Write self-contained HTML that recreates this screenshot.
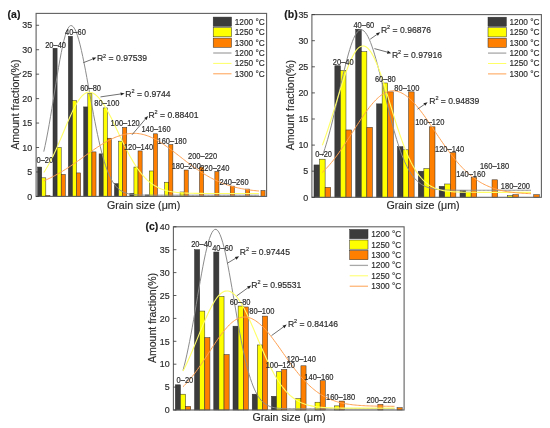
<!DOCTYPE html>
<html><head><meta charset="utf-8"><style>
html,body{margin:0;padding:0;background:#fff;width:550px;height:428px;overflow:hidden}
svg{display:block;font-family:"Liberation Sans", sans-serif;filter:blur(0.35px)}
</style></head><body>
<svg width="550" height="428" viewBox="0 0 550 428">
<rect width="550" height="428" fill="#fff"/>
<rect x="37.64" y="167.07" width="4.10" height="29.33" fill="#3c3c3c" stroke="#2a2a2a" stroke-width="0.5"/>
<rect x="53.00" y="48.26" width="4.10" height="148.14" fill="#3c3c3c" stroke="#2a2a2a" stroke-width="0.5"/>
<rect x="68.37" y="36.29" width="4.10" height="160.11" fill="#3c3c3c" stroke="#2a2a2a" stroke-width="0.5"/>
<rect x="83.74" y="106.93" width="4.10" height="89.47" fill="#3c3c3c" stroke="#2a2a2a" stroke-width="0.5"/>
<rect x="99.10" y="153.87" width="4.10" height="42.53" fill="#3c3c3c" stroke="#2a2a2a" stroke-width="0.5"/>
<rect x="114.47" y="183.69" width="4.10" height="12.71" fill="#3c3c3c" stroke="#2a2a2a" stroke-width="0.5"/>
<rect x="129.84" y="193.47" width="4.10" height="2.93" fill="#3c3c3c" stroke="#2a2a2a" stroke-width="0.5"/>
<rect x="145.20" y="194.93" width="4.10" height="1.47" fill="#3c3c3c" stroke="#2a2a2a" stroke-width="0.5"/>
<rect x="41.73" y="177.82" width="4.10" height="18.58" fill="#ffff00" stroke="#2a2a2a" stroke-width="0.5"/>
<rect x="57.10" y="147.51" width="4.10" height="48.89" fill="#ffff00" stroke="#2a2a2a" stroke-width="0.5"/>
<rect x="72.47" y="100.58" width="4.10" height="95.82" fill="#ffff00" stroke="#2a2a2a" stroke-width="0.5"/>
<rect x="87.83" y="93.49" width="4.10" height="102.91" fill="#ffff00" stroke="#2a2a2a" stroke-width="0.5"/>
<rect x="103.20" y="107.91" width="4.10" height="88.49" fill="#ffff00" stroke="#2a2a2a" stroke-width="0.5"/>
<rect x="118.57" y="141.15" width="4.10" height="55.25" fill="#ffff00" stroke="#2a2a2a" stroke-width="0.5"/>
<rect x="133.93" y="167.07" width="4.10" height="29.33" fill="#ffff00" stroke="#2a2a2a" stroke-width="0.5"/>
<rect x="149.30" y="170.98" width="4.10" height="25.42" fill="#ffff00" stroke="#2a2a2a" stroke-width="0.5"/>
<rect x="164.67" y="182.22" width="4.10" height="14.18" fill="#ffff00" stroke="#2a2a2a" stroke-width="0.5"/>
<rect x="180.03" y="192.00" width="4.10" height="4.40" fill="#ffff00" stroke="#2a2a2a" stroke-width="0.5"/>
<rect x="45.83" y="195.42" width="4.10" height="0.98" fill="#ff8000" stroke="#2a2a2a" stroke-width="0.5"/>
<rect x="61.20" y="174.40" width="4.10" height="22.00" fill="#ff8000" stroke="#2a2a2a" stroke-width="0.5"/>
<rect x="76.57" y="172.93" width="4.10" height="23.47" fill="#ff8000" stroke="#2a2a2a" stroke-width="0.5"/>
<rect x="91.93" y="151.91" width="4.10" height="44.49" fill="#ff8000" stroke="#2a2a2a" stroke-width="0.5"/>
<rect x="107.30" y="138.22" width="4.10" height="58.18" fill="#ff8000" stroke="#2a2a2a" stroke-width="0.5"/>
<rect x="122.67" y="127.47" width="4.10" height="68.93" fill="#ff8000" stroke="#2a2a2a" stroke-width="0.5"/>
<rect x="138.03" y="150.93" width="4.10" height="45.47" fill="#ff8000" stroke="#2a2a2a" stroke-width="0.5"/>
<rect x="153.40" y="133.82" width="4.10" height="62.58" fill="#ff8000" stroke="#2a2a2a" stroke-width="0.5"/>
<rect x="168.77" y="144.58" width="4.10" height="51.82" fill="#ff8000" stroke="#2a2a2a" stroke-width="0.5"/>
<rect x="184.13" y="170.00" width="4.10" height="26.40" fill="#ff8000" stroke="#2a2a2a" stroke-width="0.5"/>
<rect x="199.50" y="167.07" width="4.10" height="29.33" fill="#ff8000" stroke="#2a2a2a" stroke-width="0.5"/>
<rect x="214.87" y="171.47" width="4.10" height="24.93" fill="#ff8000" stroke="#2a2a2a" stroke-width="0.5"/>
<rect x="230.23" y="186.13" width="4.10" height="10.27" fill="#ff8000" stroke="#2a2a2a" stroke-width="0.5"/>
<rect x="245.60" y="189.07" width="4.10" height="7.33" fill="#ff8000" stroke="#2a2a2a" stroke-width="0.5"/>
<rect x="260.97" y="190.53" width="4.10" height="5.87" fill="#ff8000" stroke="#2a2a2a" stroke-width="0.5"/>
<polyline points="43.78,151.65 45.13,145.56 46.47,138.98 47.82,131.95 49.16,124.52 50.51,116.73 51.85,108.67 53.20,100.40 54.54,92.03 55.88,83.67 57.23,75.42 58.57,67.42 59.92,59.78 61.26,52.64 62.61,46.11 63.95,40.32 65.30,35.37 66.64,31.35 67.99,28.34 69.33,26.40 70.68,25.56 72.02,25.79 73.36,26.91 74.71,28.90 76.05,31.74 77.40,35.38 78.74,39.75 80.09,44.81 81.43,50.47 82.78,56.64 84.12,63.25 85.47,70.21 86.81,77.43 88.15,84.81 89.50,92.28 90.84,99.74 92.19,107.13 93.53,114.38 94.88,121.42 96.22,128.20 97.57,134.68 98.91,140.82 100.26,146.59 101.60,151.98 102.95,156.98 104.29,161.57 105.63,165.77 106.98,169.58 108.32,173.01 109.67,176.08 111.01,178.82 112.36,181.24 113.70,183.36 115.05,185.21 116.39,186.82 117.74,188.20 119.08,189.39 120.42,190.40 121.77,191.25 123.11,191.97 124.46,192.57 125.80,193.07 127.15,193.48 128.49,193.82 129.84,194.10 131.18,194.32 132.53,194.51 133.87,194.65 135.22,194.77 136.56,194.86 137.90,194.93 139.25,194.99 140.59,195.03 141.94,195.07 143.28,195.10 144.63,195.12 145.97,195.13 147.32,195.14 148.66,195.15 150.01,195.16 151.35,195.16 152.69,195.17 154.04,195.17 155.38,195.17 156.73,195.17 158.07,195.18 159.42,195.18 160.76,195.18 162.11,195.18 163.45,195.18 164.80,195.18 166.14,195.18 167.49,195.18 168.83,195.18 170.17,195.18 171.52,195.18 172.86,195.18 174.21,195.18 175.55,195.18 176.90,195.18 178.24,195.18 179.59,195.18 180.93,195.18 182.28,195.18 183.62,195.18 184.96,195.18 186.31,195.18 187.65,195.18 189.00,195.18 190.34,195.18 191.69,195.18 193.03,195.18 194.38,195.18 195.72,195.18 197.07,195.18 198.41,195.18 199.76,195.18 201.10,195.18 202.44,195.18 203.79,195.18 205.13,195.18 206.48,195.18 207.82,195.18 209.17,195.18 210.51,195.18 211.86,195.18 213.20,195.18 214.55,195.18 215.89,195.18 217.23,195.18 218.58,195.18 219.92,195.18 221.27,195.18 222.61,195.18 223.96,195.18 225.30,195.18 226.65,195.18 227.99,195.18 229.34,195.18 230.68,195.18 232.03,195.18 233.37,195.18 234.71,195.18 236.06,195.18 237.40,195.18 238.75,195.18 240.09,195.18 241.44,195.18 242.78,195.18 244.13,195.18 245.47,195.18 246.82,195.18 248.16,195.18 249.50,195.18 250.85,195.18 252.19,195.18 253.54,195.18 254.88,195.18 256.23,195.18 257.57,195.18 258.92,195.18" fill="none" stroke="#8c8c8c" stroke-width="1.0"/>
<polyline points="43.78,172.46 45.13,170.43 46.47,168.28 47.82,166.00 49.16,163.60 50.51,161.08 51.85,158.45 53.20,155.70 54.54,152.86 55.88,149.92 57.23,146.90 58.57,143.80 59.92,140.65 61.26,137.46 62.61,134.23 63.95,131.00 65.30,127.77 66.64,124.56 67.99,121.40 69.33,118.31 70.68,115.29 72.02,112.39 73.36,109.61 74.71,106.97 76.05,104.50 77.40,102.22 78.74,100.13 80.09,98.26 81.43,96.62 82.78,95.23 84.12,94.10 85.47,93.23 86.81,92.64 88.15,92.32 89.50,92.28 90.84,92.47 92.19,92.87 93.53,93.49 94.88,94.32 96.22,95.35 97.57,96.58 98.91,98.01 100.26,99.61 101.60,101.38 102.95,103.31 104.29,105.40 105.63,107.62 106.98,109.96 108.32,112.41 109.67,114.96 111.01,117.60 112.36,120.30 113.70,123.06 115.05,125.85 116.39,128.68 117.74,131.52 119.08,134.37 120.42,137.20 121.77,140.02 123.11,142.80 124.46,145.54 125.80,148.23 127.15,150.86 128.49,153.43 129.84,155.92 131.18,158.33 132.53,160.65 133.87,162.89 135.22,165.04 136.56,167.09 137.90,169.05 139.25,170.91 140.59,172.67 141.94,174.34 143.28,175.91 144.63,177.39 145.97,178.77 147.32,180.07 148.66,181.27 150.01,182.39 151.35,183.43 152.69,184.40 154.04,185.28 155.38,186.10 156.73,186.85 158.07,187.53 159.42,188.16 160.76,188.73 162.11,189.25 163.45,189.72 164.80,190.14 166.14,190.52 167.49,190.87 168.83,191.18 170.17,191.45 171.52,191.70 172.86,191.92 174.21,192.12 175.55,192.29 176.90,192.44 178.24,192.58 179.59,192.70 180.93,192.80 182.28,192.89 183.62,192.97 184.96,193.04 186.31,193.10 187.65,193.16 189.00,193.20 190.34,193.24 191.69,193.27 193.03,193.30 194.38,193.33 195.72,193.35 197.07,193.37 198.41,193.38 199.76,193.40 201.10,193.41 202.44,193.42 203.79,193.43 205.13,193.43 206.48,193.44 207.82,193.44 209.17,193.45 210.51,193.45 211.86,193.45 213.20,193.46 214.55,193.46 215.89,193.46 217.23,193.46 218.58,193.46 219.92,193.46 221.27,193.46 222.61,193.46 223.96,193.46 225.30,193.46 226.65,193.47 227.99,193.47 229.34,193.47 230.68,193.47 232.03,193.47 233.37,193.47 234.71,193.47 236.06,193.47 237.40,193.47 238.75,193.47 240.09,193.47 241.44,193.47 242.78,193.47 244.13,193.47 245.47,193.47 246.82,193.47 248.16,193.47 249.50,193.47 250.85,193.47 252.19,193.47 253.54,193.47 254.88,193.47 256.23,193.47 257.57,193.47 258.92,193.47" fill="none" stroke="#ffff66" stroke-width="1.1"/>
<polyline points="43.78,180.87 45.13,180.30 46.47,179.71 47.82,179.10 49.16,178.47 50.51,177.82 51.85,177.15 53.20,176.46 54.54,175.76 55.88,175.03 57.23,174.29 58.57,173.53 59.92,172.75 61.26,171.96 62.61,171.14 63.95,170.32 65.30,169.47 66.64,168.62 67.99,167.74 69.33,166.86 70.68,165.96 72.02,165.05 73.36,164.13 74.71,163.20 76.05,162.26 77.40,161.32 78.74,160.37 80.09,159.41 81.43,158.45 82.78,157.49 84.12,156.52 85.47,155.56 86.81,154.59 88.15,153.63 89.50,152.68 90.84,151.73 92.19,150.79 93.53,149.85 94.88,148.93 96.22,148.02 97.57,147.12 98.91,146.24 100.26,145.38 101.60,144.53 102.95,143.71 104.29,142.91 105.63,142.13 106.98,141.37 108.32,140.64 109.67,139.94 111.01,139.26 112.36,138.62 113.70,138.01 115.05,137.43 116.39,136.89 117.74,136.38 119.08,135.91 120.42,135.47 121.77,135.08 123.11,134.72 124.46,134.40 125.80,134.12 127.15,133.88 128.49,133.69 129.84,133.54 131.18,133.43 132.53,133.36 133.87,133.33 135.22,133.35 136.56,133.42 137.90,133.54 139.25,133.72 140.59,133.94 141.94,134.21 143.28,134.52 144.63,134.89 145.97,135.30 147.32,135.76 148.66,136.26 150.01,136.81 151.35,137.39 152.69,138.02 154.04,138.69 155.38,139.39 156.73,140.13 158.07,140.90 159.42,141.71 160.76,142.54 162.11,143.41 163.45,144.29 164.80,145.21 166.14,146.14 167.49,147.10 168.83,148.08 170.17,149.07 171.52,150.07 172.86,151.09 174.21,152.12 175.55,153.15 176.90,154.19 178.24,155.24 179.59,156.29 180.93,157.33 182.28,158.38 183.62,159.43 184.96,160.47 186.31,161.50 187.65,162.53 189.00,163.54 190.34,164.55 191.69,165.54 193.03,166.52 194.38,167.49 195.72,168.44 197.07,169.38 198.41,170.29 199.76,171.19 201.10,172.07 202.44,172.93 203.79,173.77 205.13,174.59 206.48,175.39 207.82,176.17 209.17,176.92 210.51,177.65 211.86,178.36 213.20,179.05 214.55,179.72 215.89,180.36 217.23,180.98 218.58,181.58 219.92,182.15 221.27,182.71 222.61,183.24 223.96,183.75 225.30,184.24 226.65,184.71 227.99,185.15 229.34,185.58 230.68,185.99 232.03,186.38 233.37,186.75 234.71,187.11 236.06,187.44 237.40,187.76 238.75,188.06 240.09,188.35 241.44,188.62 242.78,188.88 244.13,189.12 245.47,189.35 246.82,189.57 248.16,189.77 249.50,189.96 250.85,190.14 252.19,190.31 253.54,190.47 254.88,190.62 256.23,190.76 257.57,190.89 258.92,191.01" fill="none" stroke="#ffa050" stroke-width="1.0"/>
<rect x="36.10" y="13.40" width="230.50" height="183.00" fill="none" stroke="#606060" stroke-width="1.1"/>
<line x1="36.10" y1="196.40" x2="39.10" y2="196.40" stroke="#333" stroke-width="0.8"/>
<text x="0" y="0" transform="translate(32.20,199.60) scale(1,1.1)" font-size="8.9" text-anchor="end" font-weight="normal" fill="#2b2b2b" stroke="#2b2b2b" stroke-width="0.16" >0</text>
<line x1="36.10" y1="171.96" x2="39.10" y2="171.96" stroke="#333" stroke-width="0.8"/>
<text x="0" y="0" transform="translate(32.20,175.16) scale(1,1.1)" font-size="8.9" text-anchor="end" font-weight="normal" fill="#2b2b2b" stroke="#2b2b2b" stroke-width="0.16" >5</text>
<line x1="36.10" y1="147.51" x2="39.10" y2="147.51" stroke="#333" stroke-width="0.8"/>
<text x="0" y="0" transform="translate(32.20,150.71) scale(1,1.1)" font-size="8.9" text-anchor="end" font-weight="normal" fill="#2b2b2b" stroke="#2b2b2b" stroke-width="0.16" >10</text>
<line x1="36.10" y1="123.06" x2="39.10" y2="123.06" stroke="#333" stroke-width="0.8"/>
<text x="0" y="0" transform="translate(32.20,126.27) scale(1,1.1)" font-size="8.9" text-anchor="end" font-weight="normal" fill="#2b2b2b" stroke="#2b2b2b" stroke-width="0.16" >15</text>
<line x1="36.10" y1="98.62" x2="39.10" y2="98.62" stroke="#333" stroke-width="0.8"/>
<text x="0" y="0" transform="translate(32.20,101.82) scale(1,1.1)" font-size="8.9" text-anchor="end" font-weight="normal" fill="#2b2b2b" stroke="#2b2b2b" stroke-width="0.16" >20</text>
<line x1="36.10" y1="74.17" x2="39.10" y2="74.17" stroke="#333" stroke-width="0.8"/>
<text x="0" y="0" transform="translate(32.20,77.38) scale(1,1.1)" font-size="8.9" text-anchor="end" font-weight="normal" fill="#2b2b2b" stroke="#2b2b2b" stroke-width="0.16" >25</text>
<line x1="36.10" y1="49.73" x2="39.10" y2="49.73" stroke="#333" stroke-width="0.8"/>
<text x="0" y="0" transform="translate(32.20,52.93) scale(1,1.1)" font-size="8.9" text-anchor="end" font-weight="normal" fill="#2b2b2b" stroke="#2b2b2b" stroke-width="0.16" >30</text>
<line x1="36.10" y1="25.28" x2="39.10" y2="25.28" stroke="#333" stroke-width="0.8"/>
<text x="0" y="0" transform="translate(32.20,28.49) scale(1,1.1)" font-size="8.9" text-anchor="end" font-weight="normal" fill="#2b2b2b" stroke="#2b2b2b" stroke-width="0.16" >35</text>
<text x="0" y="0" font-size="10.55" text-anchor="middle" fill="#2b2b2b" stroke="#2b2b2b" stroke-width="0.16" transform="translate(18.90,104.60) rotate(-90) scale(1,1.1)">Amount fraction(%)</text>
<text x="0" y="0" transform="translate(107.00,208.85) scale(1,1.1)" font-size="10.7" text-anchor="start" font-weight="normal" fill="#2b2b2b" stroke="#2b2b2b" stroke-width="0.16" >Grain size (&#956;m)</text>
<text x="0" y="0" transform="translate(7.60,17.68) scale(1,1.1)" font-size="10.5" text-anchor="start" font-weight="bold" fill="#1a1a1a" stroke="#1a1a1a" stroke-width="0.16" >(a)</text>
<rect x="213.20" y="17.10" width="18.3" height="9.2" fill="#3c3c3c" stroke="#2a2a2a" stroke-width="0.5"/>
<text x="0" y="0" transform="translate(234.70,24.89) scale(1,1.1)" font-size="8.3" text-anchor="start" font-weight="normal" fill="#2b2b2b" stroke="#2b2b2b" stroke-width="0.16" >1200 &#176;C</text>
<rect x="213.20" y="27.60" width="18.3" height="9.2" fill="#ffff00" stroke="#2a2a2a" stroke-width="0.5"/>
<text x="0" y="0" transform="translate(234.70,35.39) scale(1,1.1)" font-size="8.3" text-anchor="start" font-weight="normal" fill="#2b2b2b" stroke="#2b2b2b" stroke-width="0.16" >1250 &#176;C</text>
<rect x="213.20" y="38.10" width="18.3" height="9.2" fill="#ff8000" stroke="#2a2a2a" stroke-width="0.5"/>
<text x="0" y="0" transform="translate(234.70,45.89) scale(1,1.1)" font-size="8.3" text-anchor="start" font-weight="normal" fill="#2b2b2b" stroke="#2b2b2b" stroke-width="0.16" >1300 &#176;C</text>
<line x1="213.20" y1="53.00" x2="231.50" y2="53.00" stroke="#a8a8a8" stroke-width="1.3"/>
<text x="0" y="0" transform="translate(234.70,55.99) scale(1,1.1)" font-size="8.3" text-anchor="start" font-weight="normal" fill="#2b2b2b" stroke="#2b2b2b" stroke-width="0.16" >1200 &#176;C</text>
<line x1="213.20" y1="63.40" x2="231.50" y2="63.40" stroke="#ffff66" stroke-width="1.0"/>
<text x="0" y="0" transform="translate(234.70,66.39) scale(1,1.1)" font-size="8.3" text-anchor="start" font-weight="normal" fill="#2b2b2b" stroke="#2b2b2b" stroke-width="0.16" >1250 &#176;C</text>
<line x1="213.20" y1="73.80" x2="231.50" y2="73.80" stroke="#ffa050" stroke-width="1.0"/>
<text x="0" y="0" transform="translate(234.70,76.79) scale(1,1.1)" font-size="8.3" text-anchor="start" font-weight="normal" fill="#2b2b2b" stroke="#2b2b2b" stroke-width="0.16" >1300 &#176;C</text>
<text x="0" y="0" transform="translate(36.50,163.20) scale(1,1.1)" font-size="7.5" text-anchor="start" font-weight="normal" fill="#2b2b2b" stroke="#2b2b2b" stroke-width="0.16" >0&#8211;20</text>
<text x="0" y="0" transform="translate(45.20,47.70) scale(1,1.1)" font-size="7.5" text-anchor="start" font-weight="normal" fill="#2b2b2b" stroke="#2b2b2b" stroke-width="0.16" >20&#8211;40</text>
<text x="0" y="0" transform="translate(65.00,34.90) scale(1,1.1)" font-size="7.5" text-anchor="start" font-weight="normal" fill="#2b2b2b" stroke="#2b2b2b" stroke-width="0.16" >40&#8211;60</text>
<text x="0" y="0" transform="translate(80.20,91.40) scale(1,1.1)" font-size="7.5" text-anchor="start" font-weight="normal" fill="#2b2b2b" stroke="#2b2b2b" stroke-width="0.16" >60&#8211;80</text>
<text x="0" y="0" transform="translate(94.30,106.30) scale(1,1.1)" font-size="7.5" text-anchor="start" font-weight="normal" fill="#2b2b2b" stroke="#2b2b2b" stroke-width="0.16" >80&#8211;100</text>
<text x="0" y="0" transform="translate(110.60,125.70) scale(1,1.1)" font-size="7.5" text-anchor="start" font-weight="normal" fill="#2b2b2b" stroke="#2b2b2b" stroke-width="0.16" >100&#8211;120</text>
<text x="0" y="0" transform="translate(123.90,149.70) scale(1,1.1)" font-size="7.5" text-anchor="start" font-weight="normal" fill="#2b2b2b" stroke="#2b2b2b" stroke-width="0.16" >120&#8211;140</text>
<text x="0" y="0" transform="translate(141.40,131.70) scale(1,1.1)" font-size="7.5" text-anchor="start" font-weight="normal" fill="#2b2b2b" stroke="#2b2b2b" stroke-width="0.16" >140&#8211;160</text>
<text x="0" y="0" transform="translate(157.50,143.70) scale(1,1.1)" font-size="7.5" text-anchor="start" font-weight="normal" fill="#2b2b2b" stroke="#2b2b2b" stroke-width="0.16" >160&#8211;180</text>
<text x="0" y="0" transform="translate(171.70,168.70) scale(1,1.1)" font-size="7.5" text-anchor="start" font-weight="normal" fill="#2b2b2b" stroke="#2b2b2b" stroke-width="0.16" >180&#8211;200</text>
<text x="0" y="0" transform="translate(188.00,159.40) scale(1,1.1)" font-size="7.5" text-anchor="start" font-weight="normal" fill="#2b2b2b" stroke="#2b2b2b" stroke-width="0.16" >200&#8211;220</text>
<text x="0" y="0" transform="translate(200.20,170.60) scale(1,1.1)" font-size="7.5" text-anchor="start" font-weight="normal" fill="#2b2b2b" stroke="#2b2b2b" stroke-width="0.16" >220&#8211;240</text>
<text x="0" y="0" transform="translate(219.40,185.10) scale(1,1.1)" font-size="7.5" text-anchor="start" font-weight="normal" fill="#2b2b2b" stroke="#2b2b2b" stroke-width="0.16" >240&#8211;260</text>
<text x="0" y="0" transform="translate(96.90,61.20) scale(1,1.1)" font-size="8.6" fill="#2b2b2b" stroke="#2b2b2b" stroke-width="0.16">R<tspan font-size="5.5" dy="-3.3">2</tspan><tspan dy="3.3"> = 0.97539</tspan></text>
<line x1="83.30" y1="62.70" x2="92.67" y2="59.05" stroke="#333" stroke-width="0.7"/>
<polygon points="96.40,57.60 93.25,60.54 92.09,57.56" fill="#222"/>
<text x="0" y="0" transform="translate(125.30,96.50) scale(1,1.1)" font-size="8.6" fill="#2b2b2b" stroke="#2b2b2b" stroke-width="0.16">R<tspan font-size="5.5" dy="-3.3">2</tspan><tspan dy="3.3"> = 0.9744</tspan></text>
<line x1="100.50" y1="96.90" x2="120.64" y2="93.97" stroke="#333" stroke-width="0.7"/>
<polygon points="124.60,93.40 120.87,95.56 120.41,92.39" fill="#222"/>
<text x="0" y="0" transform="translate(148.40,118.00) scale(1,1.1)" font-size="8.6" fill="#2b2b2b" stroke="#2b2b2b" stroke-width="0.16">R<tspan font-size="5.5" dy="-3.3">2</tspan><tspan dy="3.3"> = 0.88401</tspan></text>
<line x1="132.00" y1="134.80" x2="145.41" y2="119.05" stroke="#333" stroke-width="0.7"/>
<polygon points="148.00,116.00 146.63,120.08 144.19,118.01" fill="#222"/>
<rect x="313.99" y="164.94" width="5.56" height="32.36" fill="#3c3c3c" stroke="#2a2a2a" stroke-width="0.5"/>
<rect x="334.85" y="65.76" width="5.56" height="131.54" fill="#3c3c3c" stroke="#2a2a2a" stroke-width="0.5"/>
<rect x="355.71" y="29.22" width="5.56" height="168.08" fill="#3c3c3c" stroke="#2a2a2a" stroke-width="0.5"/>
<rect x="376.58" y="103.86" width="5.56" height="93.44" fill="#3c3c3c" stroke="#2a2a2a" stroke-width="0.5"/>
<rect x="397.44" y="146.67" width="5.56" height="50.63" fill="#3c3c3c" stroke="#2a2a2a" stroke-width="0.5"/>
<rect x="418.30" y="171.20" width="5.56" height="26.10" fill="#3c3c3c" stroke="#2a2a2a" stroke-width="0.5"/>
<rect x="439.17" y="186.34" width="5.56" height="10.96" fill="#3c3c3c" stroke="#2a2a2a" stroke-width="0.5"/>
<rect x="460.03" y="190.51" width="5.56" height="6.79" fill="#3c3c3c" stroke="#2a2a2a" stroke-width="0.5"/>
<rect x="319.55" y="159.19" width="5.56" height="38.11" fill="#ffff00" stroke="#2a2a2a" stroke-width="0.5"/>
<rect x="340.41" y="70.45" width="5.56" height="126.85" fill="#ffff00" stroke="#2a2a2a" stroke-width="0.5"/>
<rect x="361.28" y="51.66" width="5.56" height="145.64" fill="#ffff00" stroke="#2a2a2a" stroke-width="0.5"/>
<rect x="382.14" y="82.98" width="5.56" height="114.32" fill="#ffff00" stroke="#2a2a2a" stroke-width="0.5"/>
<rect x="403.00" y="149.80" width="5.56" height="47.50" fill="#ffff00" stroke="#2a2a2a" stroke-width="0.5"/>
<rect x="423.87" y="168.59" width="5.56" height="28.71" fill="#ffff00" stroke="#2a2a2a" stroke-width="0.5"/>
<rect x="444.73" y="183.99" width="5.56" height="13.31" fill="#ffff00" stroke="#2a2a2a" stroke-width="0.5"/>
<rect x="465.60" y="192.08" width="5.56" height="5.22" fill="#ffff00" stroke="#2a2a2a" stroke-width="0.5"/>
<rect x="507.32" y="195.73" width="5.56" height="1.57" fill="#ffff00" stroke="#2a2a2a" stroke-width="0.5"/>
<rect x="325.11" y="187.38" width="5.56" height="9.92" fill="#ff8000" stroke="#2a2a2a" stroke-width="0.5"/>
<rect x="345.98" y="129.96" width="5.56" height="67.34" fill="#ff8000" stroke="#2a2a2a" stroke-width="0.5"/>
<rect x="366.84" y="127.35" width="5.56" height="69.95" fill="#ff8000" stroke="#2a2a2a" stroke-width="0.5"/>
<rect x="387.70" y="91.86" width="5.56" height="105.44" fill="#ff8000" stroke="#2a2a2a" stroke-width="0.5"/>
<rect x="408.57" y="91.86" width="5.56" height="105.44" fill="#ff8000" stroke="#2a2a2a" stroke-width="0.5"/>
<rect x="429.43" y="126.83" width="5.56" height="70.47" fill="#ff8000" stroke="#2a2a2a" stroke-width="0.5"/>
<rect x="450.30" y="152.41" width="5.56" height="44.89" fill="#ff8000" stroke="#2a2a2a" stroke-width="0.5"/>
<rect x="471.16" y="177.46" width="5.56" height="19.84" fill="#ff8000" stroke="#2a2a2a" stroke-width="0.5"/>
<rect x="492.02" y="179.81" width="5.56" height="17.49" fill="#ff8000" stroke="#2a2a2a" stroke-width="0.5"/>
<rect x="512.89" y="194.69" width="5.56" height="2.61" fill="#ff8000" stroke="#2a2a2a" stroke-width="0.5"/>
<rect x="533.75" y="194.69" width="5.56" height="2.61" fill="#ff8000" stroke="#2a2a2a" stroke-width="0.5"/>
<polyline points="322.33,156.00 323.64,152.31 324.94,148.36 326.24,144.17 327.55,139.73 328.85,135.07 330.16,130.18 331.46,125.09 332.76,119.81 334.07,114.38 335.37,108.81 336.68,103.14 337.98,97.41 339.28,91.64 340.59,85.88 341.89,80.18 343.20,74.56 344.50,69.09 345.80,63.81 347.11,58.75 348.41,53.98 349.72,49.52 351.02,45.43 352.32,41.75 353.63,38.50 354.93,35.73 356.24,33.46 357.54,31.71 358.84,30.51 360.15,29.86 361.45,29.77 362.76,30.19 364.06,31.09 365.36,32.48 366.67,34.34 367.97,36.65 369.27,39.39 370.58,42.53 371.88,46.06 373.19,49.93 374.49,54.12 375.79,58.59 377.10,63.31 378.40,68.23 379.71,73.33 381.01,78.55 382.31,83.87 383.62,89.25 384.92,94.65 386.23,100.04 387.53,105.38 388.83,110.66 390.14,115.84 391.44,120.89 392.75,125.80 394.05,130.55 395.35,135.12 396.66,139.49 397.96,143.66 399.27,147.62 400.57,151.36 401.87,154.89 403.18,158.19 404.48,161.27 405.79,164.14 407.09,166.80 408.39,169.25 409.70,171.50 411.00,173.56 412.31,175.45 413.61,177.16 414.91,178.70 416.22,180.10 417.52,181.35 418.83,182.48 420.13,183.48 421.43,184.37 422.74,185.16 424.04,185.86 425.35,186.47 426.65,187.01 427.95,187.48 429.26,187.89 430.56,188.24 431.87,188.55 433.17,188.82 434.47,189.04 435.78,189.24 437.08,189.40 438.39,189.54 439.69,189.66 440.99,189.76 442.30,189.85 443.60,189.92 444.91,189.98 446.21,190.03 447.51,190.07 448.82,190.10 450.12,190.13 451.43,190.16 452.73,190.17 454.03,190.19 455.34,190.20 456.64,190.21 457.95,190.22 459.25,190.23 460.55,190.23 461.86,190.24 463.16,190.24 464.47,190.24 465.77,190.25 467.07,190.25 468.38,190.25 469.68,190.25 470.99,190.25 472.29,190.25 473.59,190.25 474.90,190.25 476.20,190.25 477.51,190.25 478.81,190.25 480.11,190.25 481.42,190.25 482.72,190.25 484.02,190.25 485.33,190.25 486.63,190.25 487.94,190.25 489.24,190.25 490.54,190.25 491.85,190.25 493.15,190.25 494.46,190.25 495.76,190.25 497.06,190.25 498.37,190.25 499.67,190.25 500.98,190.25 502.28,190.25 503.58,190.25 504.89,190.25 506.19,190.25 507.50,190.25 508.80,190.25 510.10,190.25 511.41,190.25 512.71,190.25 514.02,190.25 515.32,190.25 516.62,190.25 517.93,190.25 519.23,190.25 520.54,190.25 521.84,190.25 523.14,190.25 524.45,190.25 525.75,190.25 527.06,190.25 528.36,190.25 529.66,190.25 530.97,190.25" fill="none" stroke="#8c8c8c" stroke-width="1.0"/>
<polyline points="322.33,145.25 323.64,141.75 324.94,138.13 326.24,134.37 327.55,130.51 328.85,126.54 330.16,122.47 331.46,118.33 332.76,114.13 334.07,109.88 335.37,105.60 336.68,101.31 337.98,97.03 339.28,92.79 340.59,88.59 341.89,84.48 343.20,80.46 344.50,76.56 345.80,72.80 347.11,69.21 348.41,65.81 349.72,62.61 351.02,59.65 352.32,56.93 353.63,54.48 354.93,52.31 356.24,50.44 357.54,48.88 358.84,47.65 360.15,46.74 361.45,46.16 362.76,45.93 364.06,46.03 365.36,46.48 366.67,47.26 367.97,48.38 369.27,49.82 370.58,51.58 371.88,53.63 373.19,55.98 374.49,58.60 375.79,61.47 377.10,64.58 378.40,67.91 379.71,71.43 381.01,75.13 382.31,78.98 383.62,82.95 384.92,87.04 386.23,91.20 387.53,95.43 388.83,99.70 390.14,103.99 391.44,108.27 392.75,112.54 394.05,116.76 395.35,120.93 396.66,125.02 397.96,129.03 399.27,132.94 400.57,136.73 401.87,140.41 403.18,143.95 404.48,147.36 405.79,150.63 407.09,153.74 408.39,156.71 409.70,159.53 411.00,162.19 412.31,164.71 413.61,167.07 414.91,169.28 416.22,171.35 417.52,173.28 418.83,175.07 420.13,176.73 421.43,178.26 422.74,179.68 424.04,180.97 425.35,182.16 426.65,183.25 427.95,184.23 429.26,185.13 430.56,185.94 431.87,186.68 433.17,187.34 434.47,187.94 435.78,188.47 437.08,188.95 438.39,189.37 439.69,189.75 440.99,190.08 442.30,190.38 443.60,190.64 444.91,190.87 446.21,191.07 447.51,191.25 448.82,191.40 450.12,191.54 451.43,191.65 452.73,191.76 454.03,191.84 455.34,191.92 456.64,191.98 457.95,192.04 459.25,192.09 460.55,192.13 461.86,192.16 463.16,192.19 464.47,192.22 465.77,192.24 467.07,192.25 468.38,192.27 469.68,192.28 470.99,192.29 472.29,192.30 473.59,192.31 474.90,192.31 476.20,192.32 477.51,192.32 478.81,192.33 480.11,192.33 481.42,192.33 482.72,192.33 484.02,192.33 485.33,192.34 486.63,192.34 487.94,192.34 489.24,192.34 490.54,192.34 491.85,192.34 493.15,192.34 494.46,192.34 495.76,192.34 497.06,192.34 498.37,192.34 499.67,192.34 500.98,192.34 502.28,192.34 503.58,192.34 504.89,192.34 506.19,192.34 507.50,192.34 508.80,192.34 510.10,192.34 511.41,192.34 512.71,192.34 514.02,192.34 515.32,192.34 516.62,192.34 517.93,192.34 519.23,192.34 520.54,192.34 521.84,192.34 523.14,192.34 524.45,192.34 525.75,192.34 527.06,192.34 528.36,192.34 529.66,192.34 530.97,192.34" fill="none" stroke="#ffff66" stroke-width="1.1"/>
<polyline points="322.33,172.46 323.64,171.19 324.94,169.86 326.24,168.49 327.55,167.07 328.85,165.60 330.16,164.08 331.46,162.52 332.76,160.91 334.07,159.26 335.37,157.56 336.68,155.82 337.98,154.04 339.28,152.22 340.59,150.36 341.89,148.48 343.20,146.56 344.50,144.61 345.80,142.64 347.11,140.65 348.41,138.64 349.72,136.62 351.02,134.58 352.32,132.54 353.63,130.50 354.93,128.46 356.24,126.42 357.54,124.40 358.84,122.39 360.15,120.40 361.45,118.44 362.76,116.51 364.06,114.61 365.36,112.76 366.67,110.95 367.97,109.19 369.27,107.48 370.58,105.84 371.88,104.26 373.19,102.74 374.49,101.31 375.79,99.94 377.10,98.66 378.40,97.47 379.71,96.36 381.01,95.35 382.31,94.43 383.62,93.62 384.92,92.90 386.23,92.28 387.53,91.77 388.83,91.37 390.14,91.08 391.44,90.89 392.75,90.81 394.05,90.84 395.35,90.97 396.66,91.20 397.96,91.53 399.27,91.96 400.57,92.48 401.87,93.09 403.18,93.80 404.48,94.60 405.79,95.49 407.09,96.47 408.39,97.53 409.70,98.67 411.00,99.88 412.31,101.17 413.61,102.54 414.91,103.97 416.22,105.46 417.52,107.01 418.83,108.62 420.13,110.27 421.43,111.98 422.74,113.73 424.04,115.51 425.35,117.34 426.65,119.19 427.95,121.06 429.26,122.96 430.56,124.88 431.87,126.81 433.17,128.75 434.47,130.69 435.78,132.64 437.08,134.58 438.39,136.52 439.69,138.45 440.99,140.37 442.30,142.27 443.60,144.15 444.91,146.01 446.21,147.84 447.51,149.65 448.82,151.43 450.12,153.18 451.43,154.89 452.73,156.57 454.03,158.21 455.34,159.81 456.64,161.38 457.95,162.90 459.25,164.38 460.55,165.82 461.86,167.21 463.16,168.56 464.47,169.87 465.77,171.13 467.07,172.35 468.38,173.52 469.68,174.65 470.99,175.73 472.29,176.77 473.59,177.77 474.90,178.73 476.20,179.64 477.51,180.51 478.81,181.35 480.11,182.14 481.42,182.90 482.72,183.61 484.02,184.30 485.33,184.94 486.63,185.56 487.94,186.14 489.24,186.68 490.54,187.20 491.85,187.69 493.15,188.15 494.46,188.58 495.76,188.99 497.06,189.37 498.37,189.73 499.67,190.06 500.98,190.37 502.28,190.67 503.58,190.94 504.89,191.19 506.19,191.43 507.50,191.65 508.80,191.86 510.10,192.05 511.41,192.23 512.71,192.39 514.02,192.54 515.32,192.68 516.62,192.81 517.93,192.93 519.23,193.04 520.54,193.14 521.84,193.23 523.14,193.32 524.45,193.40 525.75,193.47 527.06,193.53 528.36,193.59 529.66,193.65 530.97,193.70" fill="none" stroke="#ffa050" stroke-width="1.0"/>
<rect x="311.90" y="14.60" width="229.50" height="182.70" fill="none" stroke="#606060" stroke-width="1.1"/>
<line x1="311.90" y1="197.30" x2="314.90" y2="197.30" stroke="#333" stroke-width="0.8"/>
<text x="0" y="0" transform="translate(308.30,200.50) scale(1,1.1)" font-size="8.9" text-anchor="end" font-weight="normal" fill="#2b2b2b" stroke="#2b2b2b" stroke-width="0.16" >0</text>
<line x1="311.90" y1="171.20" x2="314.90" y2="171.20" stroke="#333" stroke-width="0.8"/>
<text x="0" y="0" transform="translate(308.30,174.40) scale(1,1.1)" font-size="8.9" text-anchor="end" font-weight="normal" fill="#2b2b2b" stroke="#2b2b2b" stroke-width="0.16" >5</text>
<line x1="311.90" y1="145.10" x2="314.90" y2="145.10" stroke="#333" stroke-width="0.8"/>
<text x="0" y="0" transform="translate(308.30,148.30) scale(1,1.1)" font-size="8.9" text-anchor="end" font-weight="normal" fill="#2b2b2b" stroke="#2b2b2b" stroke-width="0.16" >10</text>
<line x1="311.90" y1="119.00" x2="314.90" y2="119.00" stroke="#333" stroke-width="0.8"/>
<text x="0" y="0" transform="translate(308.30,122.20) scale(1,1.1)" font-size="8.9" text-anchor="end" font-weight="normal" fill="#2b2b2b" stroke="#2b2b2b" stroke-width="0.16" >15</text>
<line x1="311.90" y1="92.90" x2="314.90" y2="92.90" stroke="#333" stroke-width="0.8"/>
<text x="0" y="0" transform="translate(308.30,96.10) scale(1,1.1)" font-size="8.9" text-anchor="end" font-weight="normal" fill="#2b2b2b" stroke="#2b2b2b" stroke-width="0.16" >20</text>
<line x1="311.90" y1="66.80" x2="314.90" y2="66.80" stroke="#333" stroke-width="0.8"/>
<text x="0" y="0" transform="translate(308.30,70.00) scale(1,1.1)" font-size="8.9" text-anchor="end" font-weight="normal" fill="#2b2b2b" stroke="#2b2b2b" stroke-width="0.16" >25</text>
<line x1="311.90" y1="40.70" x2="314.90" y2="40.70" stroke="#333" stroke-width="0.8"/>
<text x="0" y="0" transform="translate(308.30,43.90) scale(1,1.1)" font-size="8.9" text-anchor="end" font-weight="normal" fill="#2b2b2b" stroke="#2b2b2b" stroke-width="0.16" >30</text>
<line x1="311.90" y1="14.60" x2="314.90" y2="14.60" stroke="#333" stroke-width="0.8"/>
<text x="0" y="0" transform="translate(308.30,17.80) scale(1,1.1)" font-size="8.9" text-anchor="end" font-weight="normal" fill="#2b2b2b" stroke="#2b2b2b" stroke-width="0.16" >35</text>
<text x="0" y="0" font-size="10.55" text-anchor="middle" fill="#2b2b2b" stroke="#2b2b2b" stroke-width="0.16" transform="translate(293.90,105.20) rotate(-90) scale(1,1.1)">Amount fraction(%)</text>
<text x="0" y="0" transform="translate(386.40,208.85) scale(1,1.1)" font-size="10.7" text-anchor="start" font-weight="normal" fill="#2b2b2b" stroke="#2b2b2b" stroke-width="0.16" >Grain size (&#956;m)</text>
<text x="0" y="0" transform="translate(284.30,17.78) scale(1,1.1)" font-size="10.5" text-anchor="start" font-weight="bold" fill="#1a1a1a" stroke="#1a1a1a" stroke-width="0.16" >(b)</text>
<rect x="488.00" y="17.20" width="18.3" height="9.2" fill="#3c3c3c" stroke="#2a2a2a" stroke-width="0.5"/>
<text x="0" y="0" transform="translate(509.50,24.99) scale(1,1.1)" font-size="8.3" text-anchor="start" font-weight="normal" fill="#2b2b2b" stroke="#2b2b2b" stroke-width="0.16" >1200 &#176;C</text>
<rect x="488.00" y="27.70" width="18.3" height="9.2" fill="#ffff00" stroke="#2a2a2a" stroke-width="0.5"/>
<text x="0" y="0" transform="translate(509.50,35.49) scale(1,1.1)" font-size="8.3" text-anchor="start" font-weight="normal" fill="#2b2b2b" stroke="#2b2b2b" stroke-width="0.16" >1250 &#176;C</text>
<rect x="488.00" y="38.20" width="18.3" height="9.2" fill="#ff8000" stroke="#2a2a2a" stroke-width="0.5"/>
<text x="0" y="0" transform="translate(509.50,45.99) scale(1,1.1)" font-size="8.3" text-anchor="start" font-weight="normal" fill="#2b2b2b" stroke="#2b2b2b" stroke-width="0.16" >1300 &#176;C</text>
<line x1="488.00" y1="53.10" x2="506.30" y2="53.10" stroke="#a8a8a8" stroke-width="1.3"/>
<text x="0" y="0" transform="translate(509.50,56.09) scale(1,1.1)" font-size="8.3" text-anchor="start" font-weight="normal" fill="#2b2b2b" stroke="#2b2b2b" stroke-width="0.16" >1200 &#176;C</text>
<line x1="488.00" y1="63.50" x2="506.30" y2="63.50" stroke="#ffff66" stroke-width="1.0"/>
<text x="0" y="0" transform="translate(509.50,66.49) scale(1,1.1)" font-size="8.3" text-anchor="start" font-weight="normal" fill="#2b2b2b" stroke="#2b2b2b" stroke-width="0.16" >1250 &#176;C</text>
<line x1="488.00" y1="73.90" x2="506.30" y2="73.90" stroke="#ffa050" stroke-width="1.0"/>
<text x="0" y="0" transform="translate(509.50,76.89) scale(1,1.1)" font-size="8.3" text-anchor="start" font-weight="normal" fill="#2b2b2b" stroke="#2b2b2b" stroke-width="0.16" >1300 &#176;C</text>
<text x="0" y="0" transform="translate(315.30,157.00) scale(1,1.1)" font-size="7.5" text-anchor="start" font-weight="normal" fill="#2b2b2b" stroke="#2b2b2b" stroke-width="0.16" >0&#8211;20</text>
<text x="0" y="0" transform="translate(332.80,64.60) scale(1,1.1)" font-size="7.5" text-anchor="start" font-weight="normal" fill="#2b2b2b" stroke="#2b2b2b" stroke-width="0.16" >20&#8211;40</text>
<text x="0" y="0" transform="translate(353.40,27.90) scale(1,1.1)" font-size="7.5" text-anchor="start" font-weight="normal" fill="#2b2b2b" stroke="#2b2b2b" stroke-width="0.16" >40&#8211;60</text>
<text x="0" y="0" transform="translate(374.90,81.60) scale(1,1.1)" font-size="7.5" text-anchor="start" font-weight="normal" fill="#2b2b2b" stroke="#2b2b2b" stroke-width="0.16" >60&#8211;80</text>
<text x="0" y="0" transform="translate(394.30,91.00) scale(1,1.1)" font-size="7.5" text-anchor="start" font-weight="normal" fill="#2b2b2b" stroke="#2b2b2b" stroke-width="0.16" >80&#8211;100</text>
<text x="0" y="0" transform="translate(415.20,125.20) scale(1,1.1)" font-size="7.5" text-anchor="start" font-weight="normal" fill="#2b2b2b" stroke="#2b2b2b" stroke-width="0.16" >100&#8211;120</text>
<text x="0" y="0" transform="translate(435.00,151.60) scale(1,1.1)" font-size="7.5" text-anchor="start" font-weight="normal" fill="#2b2b2b" stroke="#2b2b2b" stroke-width="0.16" >120&#8211;140</text>
<text x="0" y="0" transform="translate(456.20,176.70) scale(1,1.1)" font-size="7.5" text-anchor="start" font-weight="normal" fill="#2b2b2b" stroke="#2b2b2b" stroke-width="0.16" >140&#8211;160</text>
<text x="0" y="0" transform="translate(479.90,168.90) scale(1,1.1)" font-size="7.5" text-anchor="start" font-weight="normal" fill="#2b2b2b" stroke="#2b2b2b" stroke-width="0.16" >160&#8211;180</text>
<text x="0" y="0" transform="translate(500.80,189.40) scale(1,1.1)" font-size="7.5" text-anchor="start" font-weight="normal" fill="#2b2b2b" stroke="#2b2b2b" stroke-width="0.16" >180&#8211;200</text>
<text x="0" y="0" transform="translate(380.90,33.00) scale(1,1.1)" font-size="8.6" fill="#2b2b2b" stroke="#2b2b2b" stroke-width="0.16">R<tspan font-size="5.5" dy="-3.3">2</tspan><tspan dy="3.3"> = 0.96876</tspan></text>
<line x1="370.20" y1="39.20" x2="376.92" y2="34.49" stroke="#333" stroke-width="0.7"/>
<polygon points="380.20,32.20 377.84,35.80 376.01,33.18" fill="#222"/>
<text x="0" y="0" transform="translate(391.90,57.50) scale(1,1.1)" font-size="8.6" fill="#2b2b2b" stroke="#2b2b2b" stroke-width="0.16">R<tspan font-size="5.5" dy="-3.3">2</tspan><tspan dy="3.3"> = 0.97916</tspan></text>
<line x1="374.40" y1="48.60" x2="387.34" y2="52.14" stroke="#333" stroke-width="0.7"/>
<polygon points="391.20,53.20 386.92,53.69 387.76,50.60" fill="#222"/>
<text x="0" y="0" transform="translate(429.20,103.70) scale(1,1.1)" font-size="8.6" fill="#2b2b2b" stroke="#2b2b2b" stroke-width="0.16">R<tspan font-size="5.5" dy="-3.3">2</tspan><tspan dy="3.3"> = 0.94839</tspan></text>
<line x1="417.50" y1="109.20" x2="424.31" y2="104.48" stroke="#333" stroke-width="0.7"/>
<polygon points="427.60,102.20 425.22,105.79 423.40,103.16" fill="#222"/>
<rect x="175.32" y="384.81" width="5.13" height="25.19" fill="#3c3c3c" stroke="#2a2a2a" stroke-width="0.5"/>
<rect x="194.55" y="249.70" width="5.13" height="160.30" fill="#3c3c3c" stroke="#2a2a2a" stroke-width="0.5"/>
<rect x="213.77" y="251.99" width="5.13" height="158.01" fill="#3c3c3c" stroke="#2a2a2a" stroke-width="0.5"/>
<rect x="233.00" y="326.19" width="5.13" height="83.81" fill="#3c3c3c" stroke="#2a2a2a" stroke-width="0.5"/>
<rect x="252.22" y="394.20" width="5.13" height="15.80" fill="#3c3c3c" stroke="#2a2a2a" stroke-width="0.5"/>
<rect x="271.45" y="396.26" width="5.13" height="13.74" fill="#3c3c3c" stroke="#2a2a2a" stroke-width="0.5"/>
<rect x="180.45" y="394.20" width="5.13" height="15.80" fill="#ffff00" stroke="#2a2a2a" stroke-width="0.5"/>
<rect x="199.67" y="311.07" width="5.13" height="98.93" fill="#ffff00" stroke="#2a2a2a" stroke-width="0.5"/>
<rect x="218.90" y="296.42" width="5.13" height="113.58" fill="#ffff00" stroke="#2a2a2a" stroke-width="0.5"/>
<rect x="238.12" y="306.03" width="5.13" height="103.97" fill="#ffff00" stroke="#2a2a2a" stroke-width="0.5"/>
<rect x="257.35" y="344.96" width="5.13" height="65.04" fill="#ffff00" stroke="#2a2a2a" stroke-width="0.5"/>
<rect x="276.57" y="371.76" width="5.13" height="38.24" fill="#ffff00" stroke="#2a2a2a" stroke-width="0.5"/>
<rect x="295.80" y="398.55" width="5.13" height="11.45" fill="#ffff00" stroke="#2a2a2a" stroke-width="0.5"/>
<rect x="315.02" y="402.21" width="5.13" height="7.79" fill="#ffff00" stroke="#2a2a2a" stroke-width="0.5"/>
<rect x="334.25" y="405.88" width="5.13" height="4.12" fill="#ffff00" stroke="#2a2a2a" stroke-width="0.5"/>
<rect x="185.58" y="406.34" width="5.13" height="3.66" fill="#ff8000" stroke="#2a2a2a" stroke-width="0.5"/>
<rect x="204.80" y="337.64" width="5.13" height="72.36" fill="#ff8000" stroke="#2a2a2a" stroke-width="0.5"/>
<rect x="224.03" y="354.58" width="5.13" height="55.42" fill="#ff8000" stroke="#2a2a2a" stroke-width="0.5"/>
<rect x="243.25" y="306.95" width="5.13" height="103.05" fill="#ff8000" stroke="#2a2a2a" stroke-width="0.5"/>
<rect x="262.48" y="316.11" width="5.13" height="93.89" fill="#ff8000" stroke="#2a2a2a" stroke-width="0.5"/>
<rect x="281.70" y="369.47" width="5.13" height="40.53" fill="#ff8000" stroke="#2a2a2a" stroke-width="0.5"/>
<rect x="300.93" y="365.80" width="5.13" height="44.20" fill="#ff8000" stroke="#2a2a2a" stroke-width="0.5"/>
<rect x="320.15" y="380.69" width="5.13" height="29.31" fill="#ff8000" stroke="#2a2a2a" stroke-width="0.5"/>
<rect x="339.38" y="401.07" width="5.13" height="8.93" fill="#ff8000" stroke="#2a2a2a" stroke-width="0.5"/>
<rect x="377.83" y="404.50" width="5.13" height="5.50" fill="#ff8000" stroke="#2a2a2a" stroke-width="0.5"/>
<rect x="397.05" y="407.71" width="5.13" height="2.29" fill="#ff8000" stroke="#2a2a2a" stroke-width="0.5"/>
<polyline points="183.01,370.39 184.33,365.37 185.66,359.94 186.98,354.11 188.30,347.89 189.62,341.32 190.94,334.42 192.26,327.22 193.59,319.79 194.91,312.18 196.23,304.45 197.55,296.67 198.87,288.93 200.19,281.30 201.52,273.89 202.84,266.76 204.16,260.02 205.48,253.76 206.80,248.05 208.13,242.99 209.45,238.63 210.77,235.05 212.09,232.30 213.41,230.41 214.73,229.43 216.06,229.35 217.38,230.20 218.70,231.94 220.02,234.55 221.34,238.01 222.66,242.24 223.99,247.20 225.31,252.81 226.63,258.99 227.95,265.66 229.27,272.73 230.59,280.10 231.92,287.70 233.24,295.43 234.56,303.21 235.88,310.95 237.20,318.59 238.52,326.05 239.85,333.29 241.17,340.24 242.49,346.87 243.81,353.14 245.13,359.04 246.46,364.53 247.78,369.62 249.10,374.30 250.42,378.58 251.74,382.46 253.06,385.96 254.39,389.09 255.71,391.89 257.03,394.36 258.35,396.53 259.67,398.43 260.99,400.08 262.32,401.50 263.64,402.73 264.96,403.77 266.28,404.66 267.60,405.41 268.92,406.03 270.25,406.56 271.57,406.99 272.89,407.35 274.21,407.64 275.53,407.88 276.85,408.08 278.18,408.23 279.50,408.36 280.82,408.46 282.14,408.54 283.46,408.60 284.78,408.65 286.11,408.69 287.43,408.72 288.75,408.74 290.07,408.76 291.39,408.77 292.72,408.78 294.04,408.79 295.36,408.79 296.68,408.80 298.00,408.80 299.32,408.80 300.65,408.80 301.97,408.81 303.29,408.81 304.61,408.81 305.93,408.81 307.25,408.81 308.58,408.81 309.90,408.81 311.22,408.81 312.54,408.81 313.86,408.81 315.18,408.81 316.51,408.81 317.83,408.81 319.15,408.81 320.47,408.81 321.79,408.81 323.11,408.81 324.44,408.81 325.76,408.81 327.08,408.81 328.40,408.81 329.72,408.81 331.05,408.81 332.37,408.81 333.69,408.81 335.01,408.81 336.33,408.81 337.65,408.81 338.98,408.81 340.30,408.81 341.62,408.81 342.94,408.81 344.26,408.81 345.58,408.81 346.91,408.81 348.23,408.81 349.55,408.81 350.87,408.81 352.19,408.81 353.51,408.81 354.84,408.81 356.16,408.81 357.48,408.81 358.80,408.81 360.12,408.81 361.44,408.81 362.77,408.81 364.09,408.81 365.41,408.81 366.73,408.81 368.05,408.81 369.37,408.81 370.70,408.81 372.02,408.81 373.34,408.81 374.66,408.81 375.98,408.81 377.31,408.81 378.63,408.81 379.95,408.81 381.27,408.81 382.59,408.81 383.91,408.81 385.24,408.81 386.56,408.81 387.88,408.81 389.20,408.81 390.52,408.81 391.84,408.81 393.17,408.81 394.49,408.81" fill="none" stroke="#8c8c8c" stroke-width="1.0"/>
<polyline points="183.01,371.06 184.33,368.44 185.66,365.73 186.98,362.93 188.30,360.04 189.62,357.08 190.94,354.04 192.26,350.94 193.59,347.80 194.91,344.61 196.23,341.39 197.55,338.15 198.87,334.91 200.19,331.68 201.52,328.47 202.84,325.30 204.16,322.19 205.48,319.14 206.80,316.17 208.13,313.30 209.45,310.55 210.77,307.92 212.09,305.44 213.41,303.11 214.73,300.95 216.06,298.98 217.38,297.20 218.70,295.63 220.02,294.27 221.34,293.13 222.66,292.22 223.99,291.55 225.31,291.12 226.63,290.93 227.95,290.98 229.27,291.26 230.59,291.76 231.92,292.48 233.24,293.43 234.56,294.58 235.88,295.95 237.20,297.51 238.52,299.26 239.85,301.19 241.17,303.29 242.49,305.55 243.81,307.96 245.13,310.50 246.46,313.15 247.78,315.92 249.10,318.78 250.42,321.72 251.74,324.72 253.06,327.78 254.39,330.87 255.71,333.99 257.03,337.12 258.35,340.25 259.67,343.37 260.99,346.47 262.32,349.53 263.64,352.55 264.96,355.51 266.28,358.41 267.60,361.25 268.92,364.01 270.25,366.68 271.57,369.28 272.89,371.77 274.21,374.18 275.53,376.49 276.85,378.70 278.18,380.80 279.50,382.81 280.82,384.71 282.14,386.52 283.46,388.22 284.78,389.83 286.11,391.33 287.43,392.75 288.75,394.07 290.07,395.31 291.39,396.46 292.72,397.52 294.04,398.51 295.36,399.43 296.68,400.27 298.00,401.04 299.32,401.75 300.65,402.41 301.97,403.00 303.29,403.55 304.61,404.04 305.93,404.49 307.25,404.89 308.58,405.26 309.90,405.59 311.22,405.89 312.54,406.16 313.86,406.40 315.18,406.61 316.51,406.80 317.83,406.97 319.15,407.12 320.47,407.25 321.79,407.37 323.11,407.48 324.44,407.57 325.76,407.65 327.08,407.72 328.40,407.78 329.72,407.83 331.05,407.88 332.37,407.92 333.69,407.96 335.01,407.99 336.33,408.01 337.65,408.04 338.98,408.06 340.30,408.07 341.62,408.09 342.94,408.10 344.26,408.11 345.58,408.12 346.91,408.13 348.23,408.13 349.55,408.14 350.87,408.14 352.19,408.15 353.51,408.15 354.84,408.15 356.16,408.16 357.48,408.16 358.80,408.16 360.12,408.16 361.44,408.16 362.77,408.16 364.09,408.16 365.41,408.17 366.73,408.17 368.05,408.17 369.37,408.17 370.70,408.17 372.02,408.17 373.34,408.17 374.66,408.17 375.98,408.17 377.31,408.17 378.63,408.17 379.95,408.17 381.27,408.17 382.59,408.17 383.91,408.17 385.24,408.17 386.56,408.17 387.88,408.17 389.20,408.17 390.52,408.17 391.84,408.17 393.17,408.17 394.49,408.17" fill="none" stroke="#ffff66" stroke-width="1.1"/>
<polyline points="183.01,386.74 184.33,385.44 185.66,384.08 186.98,382.66 188.30,381.19 189.62,379.66 190.94,378.08 192.26,376.45 193.59,374.77 194.91,373.05 196.23,371.27 197.55,369.46 198.87,367.60 200.19,365.71 201.52,363.78 202.84,361.83 204.16,359.85 205.48,357.85 206.80,355.84 208.13,353.82 209.45,351.79 210.77,349.76 212.09,347.74 213.41,345.73 214.73,343.75 216.06,341.78 217.38,339.85 218.70,337.96 220.02,336.11 221.34,334.32 222.66,332.58 223.99,330.90 225.31,329.30 226.63,327.77 227.95,326.32 229.27,324.96 230.59,323.69 231.92,322.52 233.24,321.46 234.56,320.50 235.88,319.65 237.20,318.91 238.52,318.30 239.85,317.80 241.17,317.42 242.49,317.17 243.81,317.04 245.13,317.04 246.46,317.14 247.78,317.36 249.10,317.68 250.42,318.10 251.74,318.63 253.06,319.27 254.39,320.00 255.71,320.83 257.03,321.75 258.35,322.77 259.67,323.87 260.99,325.05 262.32,326.32 263.64,327.66 264.96,329.08 266.28,330.56 267.60,332.10 268.92,333.69 270.25,335.34 271.57,337.04 272.89,338.77 274.21,340.55 275.53,342.35 276.85,344.18 278.18,346.03 279.50,347.90 280.82,349.77 282.14,351.66 283.46,353.54 284.78,355.42 286.11,357.29 287.43,359.15 288.75,361.00 290.07,362.83 291.39,364.63 292.72,366.40 294.04,368.15 295.36,369.87 296.68,371.55 298.00,373.19 299.32,374.79 300.65,376.35 301.97,377.87 303.29,379.35 304.61,380.78 305.93,382.16 307.25,383.50 308.58,384.78 309.90,386.02 311.22,387.22 312.54,388.36 313.86,389.45 315.18,390.50 316.51,391.50 317.83,392.46 319.15,393.37 320.47,394.23 321.79,395.05 323.11,395.83 324.44,396.56 325.76,397.26 327.08,397.91 328.40,398.53 329.72,399.11 331.05,399.66 332.37,400.17 333.69,400.65 335.01,401.10 336.33,401.52 337.65,401.91 338.98,402.27 340.30,402.61 341.62,402.93 342.94,403.22 344.26,403.49 345.58,403.74 346.91,403.97 348.23,404.18 349.55,404.38 350.87,404.56 352.19,404.73 353.51,404.88 354.84,405.02 356.16,405.14 357.48,405.26 358.80,405.37 360.12,405.46 361.44,405.55 362.77,405.63 364.09,405.70 365.41,405.77 366.73,405.83 368.05,405.88 369.37,405.93 370.70,405.98 372.02,406.02 373.34,406.05 374.66,406.08 375.98,406.11 377.31,406.14 378.63,406.16 379.95,406.18 381.27,406.20 382.59,406.21 383.91,406.23 385.24,406.24 386.56,406.25 387.88,406.26 389.20,406.27 390.52,406.28 391.84,406.29 393.17,406.29 394.49,406.30" fill="none" stroke="#ffa050" stroke-width="1.0"/>
<rect x="173.40" y="226.80" width="230.70" height="183.20" fill="none" stroke="#606060" stroke-width="1.1"/>
<line x1="173.40" y1="410.00" x2="176.40" y2="410.00" stroke="#333" stroke-width="0.8"/>
<text x="0" y="0" transform="translate(169.60,413.20) scale(1,1.1)" font-size="8.9" text-anchor="end" font-weight="normal" fill="#2b2b2b" stroke="#2b2b2b" stroke-width="0.16" >0</text>
<line x1="173.40" y1="387.10" x2="176.40" y2="387.10" stroke="#333" stroke-width="0.8"/>
<text x="0" y="0" transform="translate(169.60,390.30) scale(1,1.1)" font-size="8.9" text-anchor="end" font-weight="normal" fill="#2b2b2b" stroke="#2b2b2b" stroke-width="0.16" >5</text>
<line x1="173.40" y1="364.20" x2="176.40" y2="364.20" stroke="#333" stroke-width="0.8"/>
<text x="0" y="0" transform="translate(169.60,367.40) scale(1,1.1)" font-size="8.9" text-anchor="end" font-weight="normal" fill="#2b2b2b" stroke="#2b2b2b" stroke-width="0.16" >10</text>
<line x1="173.40" y1="341.30" x2="176.40" y2="341.30" stroke="#333" stroke-width="0.8"/>
<text x="0" y="0" transform="translate(169.60,344.50) scale(1,1.1)" font-size="8.9" text-anchor="end" font-weight="normal" fill="#2b2b2b" stroke="#2b2b2b" stroke-width="0.16" >15</text>
<line x1="173.40" y1="318.40" x2="176.40" y2="318.40" stroke="#333" stroke-width="0.8"/>
<text x="0" y="0" transform="translate(169.60,321.60) scale(1,1.1)" font-size="8.9" text-anchor="end" font-weight="normal" fill="#2b2b2b" stroke="#2b2b2b" stroke-width="0.16" >20</text>
<line x1="173.40" y1="295.50" x2="176.40" y2="295.50" stroke="#333" stroke-width="0.8"/>
<text x="0" y="0" transform="translate(169.60,298.70) scale(1,1.1)" font-size="8.9" text-anchor="end" font-weight="normal" fill="#2b2b2b" stroke="#2b2b2b" stroke-width="0.16" >25</text>
<line x1="173.40" y1="272.60" x2="176.40" y2="272.60" stroke="#333" stroke-width="0.8"/>
<text x="0" y="0" transform="translate(169.60,275.80) scale(1,1.1)" font-size="8.9" text-anchor="end" font-weight="normal" fill="#2b2b2b" stroke="#2b2b2b" stroke-width="0.16" >30</text>
<line x1="173.40" y1="249.70" x2="176.40" y2="249.70" stroke="#333" stroke-width="0.8"/>
<text x="0" y="0" transform="translate(169.60,252.90) scale(1,1.1)" font-size="8.9" text-anchor="end" font-weight="normal" fill="#2b2b2b" stroke="#2b2b2b" stroke-width="0.16" >35</text>
<line x1="173.40" y1="226.80" x2="176.40" y2="226.80" stroke="#333" stroke-width="0.8"/>
<text x="0" y="0" transform="translate(169.60,230.00) scale(1,1.1)" font-size="8.9" text-anchor="end" font-weight="normal" fill="#2b2b2b" stroke="#2b2b2b" stroke-width="0.16" >40</text>
<text x="0" y="0" font-size="10.55" text-anchor="middle" fill="#2b2b2b" stroke="#2b2b2b" stroke-width="0.16" transform="translate(156.20,318.00) rotate(-90) scale(1,1.1)">Amount fraction(%)</text>
<text x="0" y="0" transform="translate(252.40,420.85) scale(1,1.1)" font-size="10.7" text-anchor="start" font-weight="normal" fill="#2b2b2b" stroke="#2b2b2b" stroke-width="0.16" >Grain size (&#956;m)</text>
<text x="0" y="0" transform="translate(145.40,230.38) scale(1,1.1)" font-size="10.5" text-anchor="start" font-weight="bold" fill="#1a1a1a" stroke="#1a1a1a" stroke-width="0.16" >(c)</text>
<rect x="349.70" y="229.50" width="18.3" height="9.2" fill="#3c3c3c" stroke="#2a2a2a" stroke-width="0.5"/>
<text x="0" y="0" transform="translate(371.20,237.29) scale(1,1.1)" font-size="8.3" text-anchor="start" font-weight="normal" fill="#2b2b2b" stroke="#2b2b2b" stroke-width="0.16" >1200 &#176;C</text>
<rect x="349.70" y="240.00" width="18.3" height="9.2" fill="#ffff00" stroke="#2a2a2a" stroke-width="0.5"/>
<text x="0" y="0" transform="translate(371.20,247.79) scale(1,1.1)" font-size="8.3" text-anchor="start" font-weight="normal" fill="#2b2b2b" stroke="#2b2b2b" stroke-width="0.16" >1250 &#176;C</text>
<rect x="349.70" y="250.50" width="18.3" height="9.2" fill="#ff8000" stroke="#2a2a2a" stroke-width="0.5"/>
<text x="0" y="0" transform="translate(371.20,258.29) scale(1,1.1)" font-size="8.3" text-anchor="start" font-weight="normal" fill="#2b2b2b" stroke="#2b2b2b" stroke-width="0.16" >1300 &#176;C</text>
<line x1="349.70" y1="265.40" x2="368.00" y2="265.40" stroke="#a8a8a8" stroke-width="1.3"/>
<text x="0" y="0" transform="translate(371.20,268.39) scale(1,1.1)" font-size="8.3" text-anchor="start" font-weight="normal" fill="#2b2b2b" stroke="#2b2b2b" stroke-width="0.16" >1200 &#176;C</text>
<line x1="349.70" y1="275.80" x2="368.00" y2="275.80" stroke="#ffff66" stroke-width="1.0"/>
<text x="0" y="0" transform="translate(371.20,278.79) scale(1,1.1)" font-size="8.3" text-anchor="start" font-weight="normal" fill="#2b2b2b" stroke="#2b2b2b" stroke-width="0.16" >1250 &#176;C</text>
<line x1="349.70" y1="286.20" x2="368.00" y2="286.20" stroke="#ffa050" stroke-width="1.0"/>
<text x="0" y="0" transform="translate(371.20,289.19) scale(1,1.1)" font-size="8.3" text-anchor="start" font-weight="normal" fill="#2b2b2b" stroke="#2b2b2b" stroke-width="0.16" >1300 &#176;C</text>
<text x="0" y="0" transform="translate(176.60,382.90) scale(1,1.1)" font-size="7.5" text-anchor="start" font-weight="normal" fill="#2b2b2b" stroke="#2b2b2b" stroke-width="0.16" >0&#8211;20</text>
<text x="0" y="0" transform="translate(191.20,247.20) scale(1,1.1)" font-size="7.5" text-anchor="start" font-weight="normal" fill="#2b2b2b" stroke="#2b2b2b" stroke-width="0.16" >20&#8211;40</text>
<text x="0" y="0" transform="translate(212.20,250.70) scale(1,1.1)" font-size="7.5" text-anchor="start" font-weight="normal" fill="#2b2b2b" stroke="#2b2b2b" stroke-width="0.16" >40&#8211;60</text>
<text x="0" y="0" transform="translate(229.70,304.90) scale(1,1.1)" font-size="7.5" text-anchor="start" font-weight="normal" fill="#2b2b2b" stroke="#2b2b2b" stroke-width="0.16" >60&#8211;80</text>
<text x="0" y="0" transform="translate(249.30,314.00) scale(1,1.1)" font-size="7.5" text-anchor="start" font-weight="normal" fill="#2b2b2b" stroke="#2b2b2b" stroke-width="0.16" >80&#8211;100</text>
<text x="0" y="0" transform="translate(265.70,367.90) scale(1,1.1)" font-size="7.5" text-anchor="start" font-weight="normal" fill="#2b2b2b" stroke="#2b2b2b" stroke-width="0.16" >100&#8211;120</text>
<text x="0" y="0" transform="translate(286.70,362.10) scale(1,1.1)" font-size="7.5" text-anchor="start" font-weight="normal" fill="#2b2b2b" stroke="#2b2b2b" stroke-width="0.16" >120&#8211;140</text>
<text x="0" y="0" transform="translate(304.30,379.80) scale(1,1.1)" font-size="7.5" text-anchor="start" font-weight="normal" fill="#2b2b2b" stroke="#2b2b2b" stroke-width="0.16" >140&#8211;160</text>
<text x="0" y="0" transform="translate(326.00,399.70) scale(1,1.1)" font-size="7.5" text-anchor="start" font-weight="normal" fill="#2b2b2b" stroke="#2b2b2b" stroke-width="0.16" >160&#8211;180</text>
<text x="0" y="0" transform="translate(366.40,402.50) scale(1,1.1)" font-size="7.5" text-anchor="start" font-weight="normal" fill="#2b2b2b" stroke="#2b2b2b" stroke-width="0.16" >200&#8211;220</text>
<text x="0" y="0" transform="translate(239.80,254.60) scale(1,1.1)" font-size="8.6" fill="#2b2b2b" stroke="#2b2b2b" stroke-width="0.16">R<tspan font-size="5.5" dy="-3.3">2</tspan><tspan dy="3.3"> = 0.97445</tspan></text>
<line x1="227.40" y1="263.20" x2="235.67" y2="258.25" stroke="#333" stroke-width="0.7"/>
<polygon points="239.10,256.20 236.49,259.63 234.85,256.88" fill="#222"/>
<text x="0" y="0" transform="translate(251.20,288.10) scale(1,1.1)" font-size="8.6" fill="#2b2b2b" stroke="#2b2b2b" stroke-width="0.16">R<tspan font-size="5.5" dy="-3.3">2</tspan><tspan dy="3.3"> = 0.95531</tspan></text>
<line x1="236.70" y1="295.90" x2="247.96" y2="287.75" stroke="#333" stroke-width="0.7"/>
<polygon points="251.20,285.40 248.90,289.04 247.02,286.45" fill="#222"/>
<text x="0" y="0" transform="translate(287.90,327.00) scale(1,1.1)" font-size="8.6" fill="#2b2b2b" stroke="#2b2b2b" stroke-width="0.16">R<tspan font-size="5.5" dy="-3.3">2</tspan><tspan dy="3.3"> = 0.84146</tspan></text>
<line x1="271.50" y1="335.60" x2="283.46" y2="326.95" stroke="#333" stroke-width="0.7"/>
<polygon points="286.70,324.60 284.40,328.24 282.52,325.65" fill="#222"/>
</svg></body></html>
